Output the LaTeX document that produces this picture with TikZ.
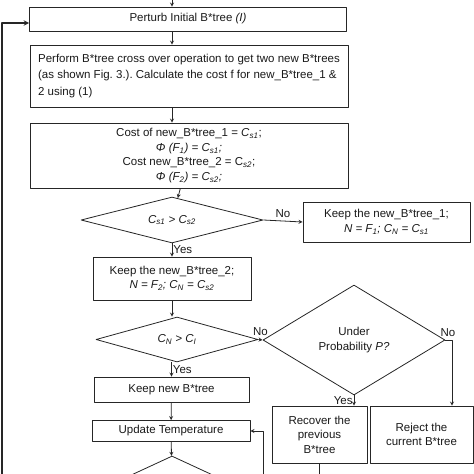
\documentclass[tikz,border=0pt]{standalone}
\usepackage{fontspec}
\setmainfont{Liberation Sans}
\usetikzlibrary{shapes.geometric}
\newcommand{\cv}[2]{\textit{#1}\textsubscript{\textit{#2}}}
\frenchspacing
\begin{document}
\begin{tikzpicture}[x=1pt,y=-1pt,>=stealth,line join=round,font=\fontsize{11.5}{14.5}\selectfont,
	box/.style={draw=black!85,line width=0.8pt,rectangle,inner sep=0pt,text=black!90,align=center},
	test/.style={draw=black!85,line width=0.8pt,diamond,aspect=4,inner sep=0pt,text=black!90,align=center},
	lnk/.style={->,line width=0.8pt,draw=black!85,text=black!90}]
	\useasboundingbox (0,0) rectangle (474,474); \clip (0,0) rectangle (474,474);
	\node[box,minimum width=317pt,minimum height=24pt] (perturb) at (188,19) {Perturb Initial B*tree \textit{(I)}};
	\node[box,minimum width=318pt,minimum height=62pt,align=left,font=\fontsize{11.5}{16.2}\selectfont] (cross) at (189,76) {Perform B*tree cross over operation to get two new B*trees\\(as shown Fig. 3.). Calculate the cost f for new\_B*tree\_1 \&\\2 using (1)};
	\node[box,minimum width=318pt,minimum height=65pt] (cost) at (189,155.5) {Cost of new\_B*tree\_1 = \cv{C}{s1};\\\textit{Φ (F\textsubscript{1}) = C\textsubscript{s1};}\\Cost new\_B*tree\_2 = C\textsubscript{\textit{s2}};\\\textit{Φ (F\textsubscript{2}) = C\textsubscript{s2};}};
	\node[test,minimum width=182pt,minimum height=46pt] (d1) at (172,220) {\cv{C}{s1} \textit{>} \cv{C}{s2}};
	\node[box,minimum width=167pt,minimum height=40pt] (keep1) at (386.5,222) {Keep the new\_B*tree\_1;\\\textit{N = F\textsubscript{1}; C\textsubscript{N} = C\textsubscript{s1}}};
	\node[box,minimum width=158pt,minimum height=43pt] (keep2) at (172,278.5) {Keep the new\_B*tree\_2;\\\textit{N = F\textsubscript{2}; C\textsubscript{N} = C\textsubscript{s2}}};
	\node[test,minimum width=162pt,minimum height=45pt] (d2) at (177,339.5) {\cv{C}{N} \textit{>} \cv{C}{I}};
	\node[test,minimum width=182pt,minimum height=110pt] (up) at (354,340) {Under\\Probability \textit{P?}};
	\node[box,minimum width=155pt,minimum height=25pt] (keepnew) at (171.5,389.5) {Keep new B*tree};
	\node[box,minimum width=158pt,minimum height=21pt] (update) at (171,431) {Update Temperature};
	\node[box,minimum width=95pt,minimum height=57pt] (recover) at (319.5,434.5) {Recover the\\previous\\B*tree};
	\node[box,minimum width=103pt,minimum height=57pt] (reject) at (421.5,434.5) {Reject the\\current B*tree};
	\node[test,minimum width=112pt,minimum height=52pt] (d3) at (172,482) {};
	\coordinate (top) at (172,0); \coordinate (loopend) at (2,474); \coordinate (backend) at (263,474); \coordinate (recend) at (319.5,474);
	\draw[lnk] (top) -- (top |- perturb.north);
	\foreach \a/\b in {perturb/cross,cross/cost}{\draw[lnk] (top |- \a.south) -- (top |- \b.north);}
	\foreach \a/\b in {cost/d1,keepnew/update,update/d3}{\draw[lnk] (\a) -- (\b);}
	\draw[lnk] (d1.east) -- (keep1.west) node[midway,above]{No};
	\draw[lnk] (d1.south) -- (keep2.north) node[midway,right,inner sep=1pt]{Yes};
	\draw[lnk] (keep2.south) -- (keep2.south |- d2.north);
	\draw[lnk] (d2.east) -- (up.west) node[midway,above]{No};
	\draw[lnk] (d2.south -| keepnew.north) -- (keepnew.north) node[midway,right,inner sep=1pt]{Yes};
	\draw[lnk] (up.east) -| ([xshift=30.5pt]reject.north) node[pos=0.5,above,xshift=-4pt]{No};
	\draw[lnk] (up.south) -- (up.south |- recover.north) node[midway,left,inner sep=1pt]{Yes};
	\draw[line width=0.8pt,black!85] (recover.south) -- (recend);
	\draw[lnk] (backend) |- (update.east);
	\draw[lnk,line width=1.4pt] (loopend) |- ([yshift=-4pt]perturb.west);
\end{tikzpicture}
\end{document}
